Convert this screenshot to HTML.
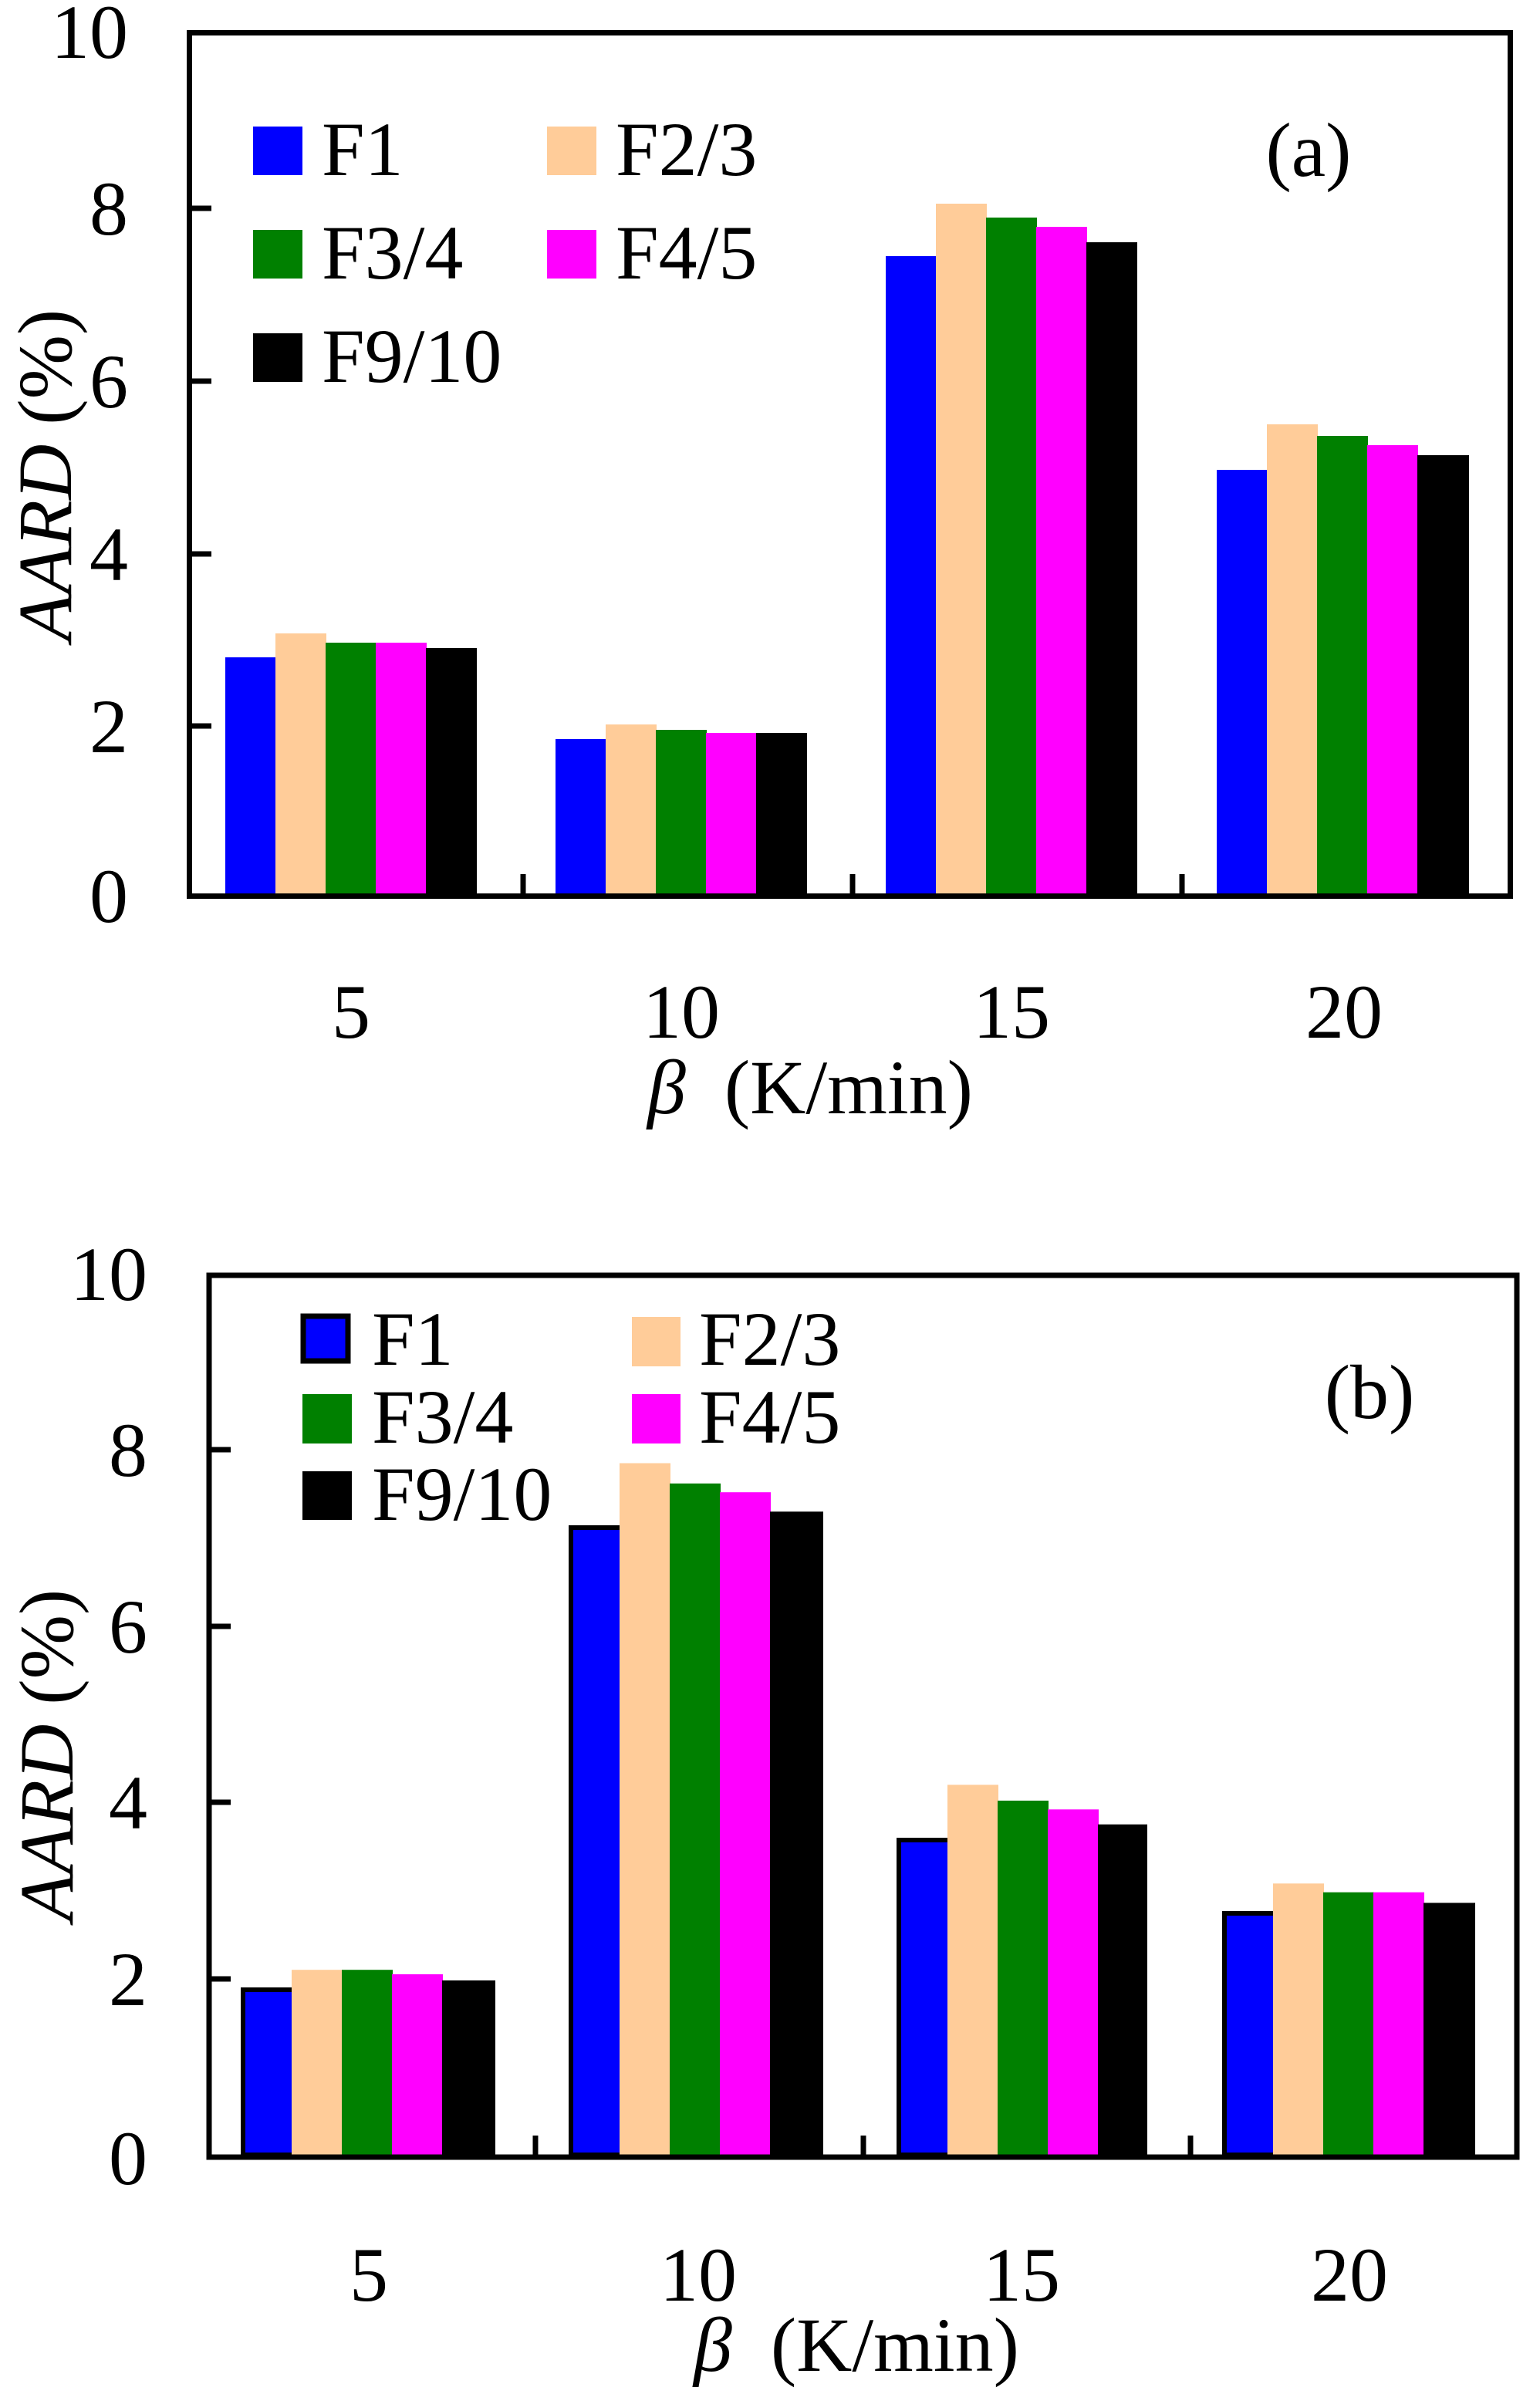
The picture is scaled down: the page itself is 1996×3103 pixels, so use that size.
<!DOCTYPE html>
<html><head><meta charset="utf-8"><style>
html,body{margin:0;padding:0;background:#fff;}
svg{display:block;}
svg text{font-family:"Liberation Serif","Times New Roman",Times,serif;fill:#000;}
</style></head><body>
<svg width="1996" height="3103" viewBox="0 0 1996 3103" xmlns="http://www.w3.org/2000/svg" font-family="Liberation Serif, Times New Roman, serif">
<rect width="1996" height="3103" fill="#fff"/>

<!-- ===== Chart (a) ===== -->
<g>
<g>
<rect x="292" y="852" width="66" height="306" fill="#0000ff"/>
<rect x="357" y="821" width="66" height="337" fill="#ffcc99"/>
<rect x="422" y="833" width="66" height="325" fill="#008000"/>
<rect x="487" y="833" width="66" height="325" fill="#ff00ff"/>
<rect x="552" y="840" width="66" height="318" fill="#000"/>
<rect x="720" y="958" width="66" height="200" fill="#0000ff"/>
<rect x="785" y="939" width="66" height="219" fill="#ffcc99"/>
<rect x="850" y="946" width="66" height="212" fill="#008000"/>
<rect x="915" y="950" width="66" height="208" fill="#ff00ff"/>
<rect x="980" y="950" width="66" height="208" fill="#000"/>
<rect x="1148" y="332" width="66" height="826" fill="#0000ff"/>
<rect x="1213" y="264" width="66" height="894" fill="#ffcc99"/>
<rect x="1278" y="282" width="66" height="876" fill="#008000"/>
<rect x="1343" y="294" width="66" height="864" fill="#ff00ff"/>
<rect x="1408" y="314" width="66" height="844" fill="#000"/>
<rect x="1577" y="609" width="66" height="549" fill="#0000ff"/>
<rect x="1642" y="550" width="66" height="608" fill="#ffcc99"/>
<rect x="1707" y="565" width="66" height="593" fill="#008000"/>
<rect x="1772" y="577" width="66" height="581" fill="#ff00ff"/>
<rect x="1837" y="590" width="67" height="568" fill="#000"/>
</g>
<rect x="245.5" y="42.5" width="1712" height="1119" fill="none" stroke="#000" stroke-width="7"/>
<g stroke="#000" stroke-width="7">
<line x1="249" y1="270" x2="274" y2="270"/>
<line x1="249" y1="494" x2="274" y2="494"/>
<line x1="249" y1="718" x2="274" y2="718"/>
<line x1="249" y1="941" x2="274" y2="941"/>
<line x1="678" y1="1158" x2="678" y2="1133"/>
<line x1="1105" y1="1158" x2="1105" y2="1133"/>
<line x1="1532" y1="1158" x2="1532" y2="1133"/>
</g>
<g font-size="100" text-anchor="end">
<text x="166" y="75">10</text>
<text x="166" y="304">8</text>
<text x="166" y="528">6</text>
<text x="166" y="752">4</text>
<text x="166" y="975">2</text>
<text x="166" y="1195">0</text>
</g>
<g font-size="100" text-anchor="middle">
<text x="455" y="1345">5</text>
<text x="883" y="1345">10</text>
<text x="1311" y="1345">15</text>
<text x="1742" y="1345">20</text>
</g>
<text x="1050" y="1443" font-size="100" text-anchor="middle" xml:space="preserve"><tspan font-style="italic">β</tspan>  (K/min)</text>
<text transform="translate(92,616) rotate(-90)" font-size="100" text-anchor="middle"><tspan font-style="italic">AARD</tspan> (%)</text>
<rect x="328" y="164" width="64" height="63" fill="#0000ff"/>
<rect x="709" y="164" width="64" height="63" fill="#ffcc99"/>
<rect x="328" y="298" width="64" height="63" fill="#008000"/>
<rect x="709" y="298" width="64" height="63" fill="#ff00ff"/>
<rect x="328" y="432" width="64" height="63" fill="#000"/>
<g font-size="100">
<text x="417" y="227">F1</text>
<text x="798" y="227">F2/3</text>
<text x="417" y="361">F3/4</text>
<text x="798" y="361">F4/5</text>
<text x="417" y="495">F9/10</text>
<text x="1696" y="228" text-anchor="middle">(a)</text>
</g>
</g>

<!-- ===== Chart (b) ===== -->
<g>
<g>
<rect x="315" y="2579" width="66" height="214" fill="#0000ff" stroke="#000" stroke-width="6"/>
<rect x="378" y="2553.2" width="66" height="239.8" fill="#ffcc99"/>
<rect x="443" y="2553.2" width="66" height="239.8" fill="#008000"/>
<rect x="508" y="2558.9" width="66" height="234.1" fill="#ff00ff"/>
<rect x="573" y="2566.9" width="69" height="226.1" fill="#000"/>
<rect x="740" y="1980" width="66" height="813" fill="#0000ff" stroke="#000" stroke-width="6"/>
<rect x="803" y="1896.5" width="66" height="896.5" fill="#ffcc99"/>
<rect x="868" y="1922.8" width="66" height="870.2" fill="#008000"/>
<rect x="933" y="1934.2" width="66" height="858.8" fill="#ff00ff"/>
<rect x="998" y="1959.3" width="69" height="833.7" fill="#000"/>
<rect x="1165" y="2385" width="66" height="408" fill="#0000ff" stroke="#000" stroke-width="6"/>
<rect x="1228" y="2313.4" width="66" height="479.6" fill="#ffcc99"/>
<rect x="1293" y="2333.9" width="66" height="459.1" fill="#008000"/>
<rect x="1358" y="2345.3" width="66" height="447.7" fill="#ff00ff"/>
<rect x="1423" y="2364.7" width="64" height="428.3" fill="#000"/>
<rect x="1587" y="2480" width="66" height="313" fill="#0000ff" stroke="#000" stroke-width="6"/>
<rect x="1650" y="2441.3" width="66" height="351.7" fill="#ffcc99"/>
<rect x="1715" y="2452.7" width="66" height="340.3" fill="#008000"/>
<rect x="1780" y="2452.7" width="66" height="340.3" fill="#ff00ff"/>
<rect x="1845" y="2466.4" width="67" height="326.6" fill="#000"/>
</g>
<rect x="271" y="1653" width="1695" height="1143" fill="none" stroke="#000" stroke-width="7"/>
<g stroke="#000" stroke-width="7">
<line x1="274" y1="1879" x2="299" y2="1879"/>
<line x1="274" y1="2108" x2="299" y2="2108"/>
<line x1="274" y1="2336" x2="299" y2="2336"/>
<line x1="274" y1="2565" x2="299" y2="2565"/>
<line x1="694" y1="2793" x2="694" y2="2768"/>
<line x1="1119" y1="2793" x2="1119" y2="2768"/>
<line x1="1543" y1="2793" x2="1543" y2="2768"/>
</g>
<g font-size="100" text-anchor="end">
<text x="191" y="1685">10</text>
<text x="191" y="1913">8</text>
<text x="191" y="2142">6</text>
<text x="191" y="2370">4</text>
<text x="191" y="2599">2</text>
<text x="191" y="2831">0</text>
</g>
<g font-size="100" text-anchor="middle">
<text x="478" y="2982">5</text>
<text x="905" y="2982">10</text>
<text x="1324" y="2982">15</text>
<text x="1749" y="2982">20</text>
</g>
<text x="1110" y="3073" font-size="100" text-anchor="middle" xml:space="preserve"><tspan font-style="italic">β</tspan>  (K/min)</text>
<text transform="translate(94,2275) rotate(-90)" font-size="100" text-anchor="middle"><tspan font-style="italic">AARD</tspan> (%)</text>
<rect x="393" y="1706" width="58" height="58" fill="#0000ff" stroke="#000" stroke-width="7"/>
<rect x="819" y="1707" width="63" height="64" fill="#ffcc99"/>
<rect x="392" y="1807" width="64" height="64" fill="#008000"/>
<rect x="819" y="1807" width="63" height="64" fill="#ff00ff"/>
<rect x="392" y="1907" width="64" height="63" fill="#000"/>
<g font-size="100">
<text x="482" y="1769">F1</text>
<text x="906" y="1769">F2/3</text>
<text x="482" y="1870">F3/4</text>
<text x="906" y="1870">F4/5</text>
<text x="482" y="1970">F9/10</text>
<text x="1775" y="1838" text-anchor="middle">(b)</text>
</g>
</g>
</svg>
</body></html>
